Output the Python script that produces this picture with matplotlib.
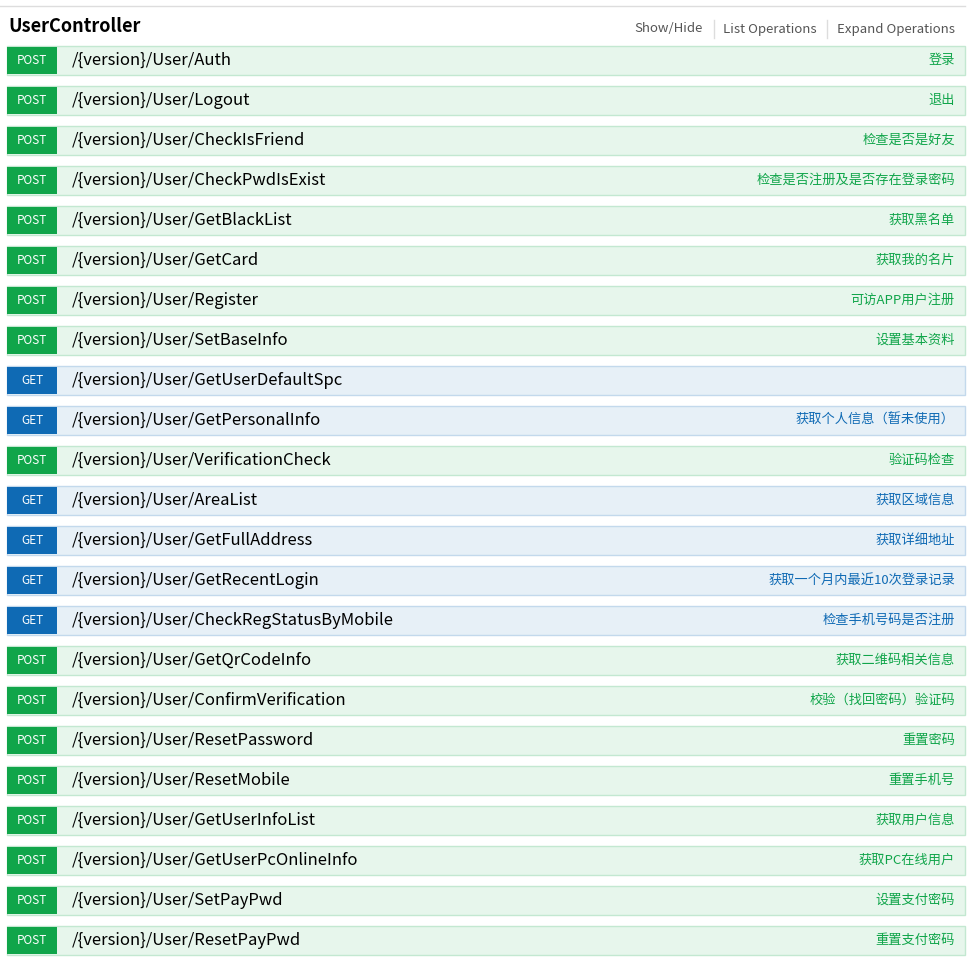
import matplotlib
matplotlib.use("Agg")
import matplotlib.pyplot as plt
from matplotlib.patches import Rectangle

methods = ["POST","POST","POST","POST","POST","POST","POST","POST","GET","GET","POST","GET","GET","GET","GET","POST","POST","POST","POST","POST","POST","POST","POST"]
paths = ["Auth","Logout","CheckIsFriend","CheckPwdIsExist","GetBlackList","GetCard","Register","SetBaseInfo",
         "GetUserDefaultSpc","GetPersonalInfo","VerificationCheck","AreaList","GetFullAddress","GetRecentLogin",
         "CheckRegStatusByMobile","GetQrCodeInfo","ConfirmVerification","ResetPassword","ResetMobile",
         "GetUserInfoList","GetUserPcOnlineInfo","SetPayPwd","ResetPayPwd"]
summaries = ["登录","退出","检查是否是好友","检查是否注册及是否存在登录密码","获取黑名单","获取我的名片","可访APP用户注册",
             "设置基本资料","","获取个人信息（暂未使用）","验证码检查","获取区域信息","获取详细地址",
             "获取一个月内最近10次登录记录","检查手机号码是否注册","获取二维码相关信息","校验（找回密码）验证码",
             "重置密码","重置手机号","获取用户信息","获取PC在线用户","设置支付密码","重置支付密码"]
title = "UserController"
links = ["Show/Hide","List Operations","Expand Operations"]

FONT = "Noto Sans CJK SC"
style = {"POST": ("#10a54a", "#e7f6ec", "#c3e8d1"),
         "GET": ("#0f6ab4", "#e7f0f7", "#c3d9ec")}

fig = plt.figure(figsize=(9.78, 9.57), dpi=100)
ax = fig.add_axes([0, 0, 1, 1])
ax.set_xlim(0, 978); ax.set_ylim(957, 0); ax.axis("off")

ax.plot([0, 965], [5.5, 5.5], color="#dddddd", lw=1)
ax.text(8, 26, title, fontsize=13, fontweight="bold", family=FONT, va="center", ha="left", color="#000")
lx = [703, 817, 955]
for x, t in zip(lx, links):
    ax.text(x, 29, t, fontsize=9.5, family=FONT, va="center", ha="right", color="#555")
for x in [714, 827]:
    ax.plot([x, x], [20, 38], color="#dddddd", lw=1)

for i, (m, p, s) in enumerate(zip(methods, paths, summaries)):
    top = 46 + 40 * i
    fg, bg, bd = style[m]
    ax.add_patch(Rectangle((7, top), 958, 29, facecolor=bg, edgecolor=bd, lw=1))
    ax.add_patch(Rectangle((7, top + 1), 50, 27, facecolor=fg, edgecolor="none"))
    ax.text(32, top + 15, m, fontsize=8.5, family=FONT, color="white", va="center", ha="center")
    ax.text(72, top + 14.5, "/{version}/User/" + p, fontsize=12, family=FONT, color="#000", va="center", ha="left")
    if s:
        ax.text(955, top + 14.5, s, fontsize=9.5, family=FONT, color=fg, va="center", ha="right")

fig.savefig("out.png", dpi=100, facecolor="white")
